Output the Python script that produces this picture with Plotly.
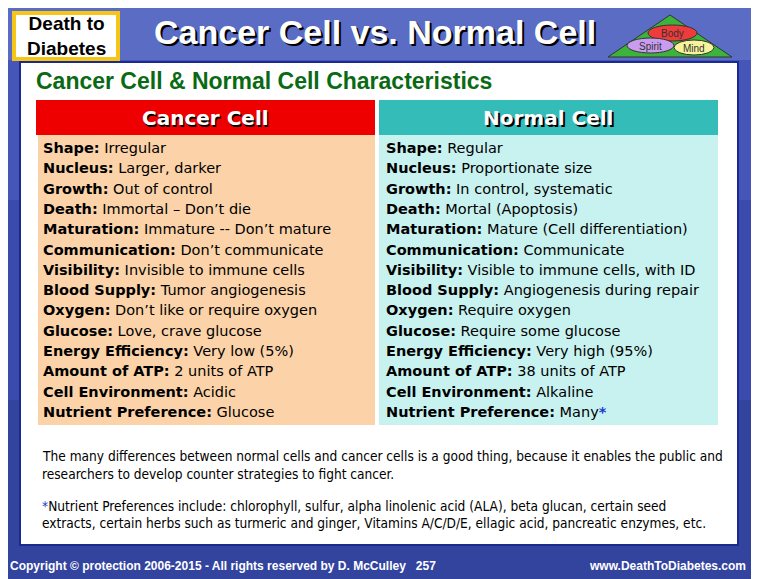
import plotly.graph_objects as go

labels = ["Shape", "Nucleus", "Growth", "Death", "Maturation", "Communication", "Visibility",
          "Blood Supply", "Oxygen", "Glucose", "Energy Efficiency", "Amount of ATP",
          "Cell Environment", "Nutrient Preference"]
cancer = ["Irregular", "Larger, darker", "Out of control", "Immortal \u2013 Don\u2019t die",
          "Immature -- Don\u2019t mature", "Don\u2019t communicate", "Invisible to immune cells",
          "Tumor angiogenesis", "Don\u2019t like or require oxygen", "Love, crave glucose",
          "Very low (5%)", "2 units of ATP", "Acidic", "Glucose"]
normal = ["Regular", "Proportionate size", "In control, systematic", "Mortal (Apoptosis)",
          "Mature (Cell differentiation)", "Communicate", "Visible to immune cells, with ID",
          "Angiogenesis during repair", "Require oxygen", "Require some glucose",
          "Very high (95%)", "38 units of ATP", "Alkaline", "Many<span style='color:#1a3ad0'><b>*</b></span>"]

fig = go.Figure()
shapes = []
anns = []
bands = [("#5a6cc4", 0, 60), ("#4556b8", 60, 200), ("#3a4aad", 200, 400), ("#33449f", 400, 579)]
for c, y0, y1 in bands:
    shapes.append(dict(type="rect", x0=0, x1=759, y0=y0, y1=y1, fillcolor=c, line_width=0, layer="below"))
shapes.append(dict(type="rect", x0=20, x1=738, y0=62, y1=545, fillcolor="white", line=dict(color="#1a2a90", width=2)))
shapes.append(dict(type="rect", x0=14, x1=118, y0=13, y1=59, fillcolor="white", line=dict(color="#f5c518", width=4)))
anns.append(dict(x=66, y=36, text="<b>Death to<br>Diabetes</b>", showarrow=False,
                 font=dict(family="Liberation Sans", size=19, color="black")))
for dx, dy, col in [(2, 2, "black"), (0, 0, "white")]:
    anns.append(dict(x=375 + dx, y=32 + dy, text="<b>Cancer Cell vs. Normal Cell</b>", showarrow=False,
                     font=dict(family="Liberation Sans Narrow, Liberation Sans", size=34, color=col)))
shapes.append(dict(type="path", path="M 670 15 L 608 57 L 732 57 Z", fillcolor="#3cb43c", line=dict(color="#333", width=1)))
shapes.append(dict(type="circle", x0=648, x1=697, y0=25, y1=41, fillcolor="#ee3b3b", line=dict(color="#333", width=1)))
shapes.append(dict(type="circle", x0=627, x1=674, y0=38, y1=53, fillcolor="#c99cf0", line=dict(color="#333", width=1)))
shapes.append(dict(type="circle", x0=674, x1=714, y0=40, y1=55, fillcolor="#f6f39a", line=dict(color="#333", width=1)))
anns += [dict(x=672, y=33, text="Body", showarrow=False, font=dict(family="Liberation Sans", size=10, color="#333")),
         dict(x=650, y=46, text="Spirit", showarrow=False, font=dict(family="Liberation Sans", size=10, color="#333")),
         dict(x=694, y=48, text="Mind", showarrow=False, font=dict(family="Liberation Sans", size=10, color="#333"))]
anns.append(dict(x=34, y=81, xanchor="left", text="<b>Cancer Cell & Normal Cell Characteristics</b>", showarrow=False,
                 font=dict(family="Liberation Sans Narrow, Liberation Sans", size=23, color="#0a6a14")))
shapes.append(dict(type="rect", x0=36, x1=375, y0=100, y1=135, fillcolor="#ee0000", line_width=0))
shapes.append(dict(type="rect", x0=379, x1=718, y0=100, y1=135, fillcolor="#33bcb8", line_width=0))
shapes.append(dict(type="rect", x0=38, x1=375, y0=135, y1=425, fillcolor="#fcd3a8", line_width=0))
shapes.append(dict(type="rect", x0=379, x1=718, y0=135, y1=425, fillcolor="#c8f2f0", line_width=0))
for xc, t in [(205, "Cancer Cell"), (548, "Normal Cell")]:
    for dx, col in [(1.5, "black"), (0, "white")]:
        anns.append(dict(x=xc + dx, y=118 + dx, text="<b>" + t + "</b>", showarrow=False,
                         font=dict(family="DejaVu Sans", size=20, color=col)))
for i, lab in enumerate(labels):
    y = 148 + i * 20.3
    anns.append(dict(x=41, y=y, xanchor="left", text="<b>%s:</b> %s" % (lab, cancer[i]), showarrow=False,
                     font=dict(family="DejaVu Sans", size=14.5, color="black")))
    anns.append(dict(x=384, y=y, xanchor="left", text="<b>%s:</b> %s" % (lab, normal[i]), showarrow=False,
                     font=dict(family="DejaVu Sans", size=14.5, color="black")))
ft = dict(family="DejaVu Sans Condensed, DejaVu Sans", size=13.6, color="black")
anns += [
    dict(x=40, y=456, xanchor="left", showarrow=False, font=ft,
         text="The many differences between normal cells and cancer cells is a good thing, because it enables the public and"),
    dict(x=40, y=474, xanchor="left", showarrow=False, font=ft,
         text="researchers to develop counter strategies to fight cancer."),
    dict(x=40, y=506, xanchor="left", showarrow=False, font=ft,
         text="<span style='color:#1a3ad0'>*</span>Nutrient Preferences include: chlorophyll, sulfur, alpha linolenic acid (ALA), beta glucan, certain seed"),
    dict(x=40, y=523, xanchor="left", showarrow=False, font=ft,
         text="extracts, certain herbs such as turmeric and ginger, Vitamins A/C/D/E, ellagic acid, pancreatic enzymes, etc."),
    dict(x=8, y=566, xanchor="left", showarrow=False,
         font=dict(family="Liberation Sans Narrow, Liberation Sans", size=12, color="white"),
         text="<b>Copyright \u00a9 protection 2006-2015 - All rights reserved by D. McCulley   257</b>"),
    dict(x=748, y=566, xanchor="right", showarrow=False,
         font=dict(family="Liberation Sans Narrow, Liberation Sans", size=12, color="white"),
         text="<b>www.DeathToDiabetes.com</b>"),
]
# page has an 8px body margin: shift axis ranges so data coords equal screen pixels
fig.update_layout(width=751, height=571, margin=dict(l=0, r=0, t=0, b=0),
                  xaxis=dict(range=[8, 759], visible=False, fixedrange=True),
                  yaxis=dict(range=[579, 8], visible=False, fixedrange=True),
                  plot_bgcolor="#3a4aad", paper_bgcolor="#3a4aad",
                  shapes=shapes, annotations=anns, showlegend=False)
fig.write_html("out.html")
